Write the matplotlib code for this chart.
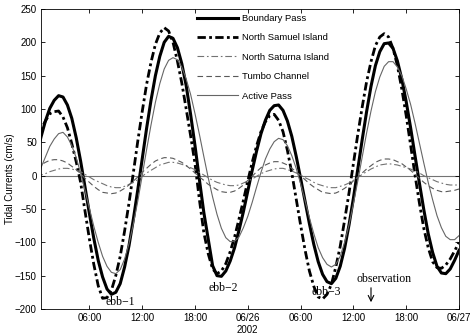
import numpy as np
import matplotlib
matplotlib.use('Agg')
import matplotlib.pyplot as plt

plt.rcParams['font.family'] = 'Liberation Sans'

# half-hourly, hours since 06/25 00:00 (2002)
hours = np.arange(0, 48.5, 0.5)

boundary_pass = [30, 58, 82, 101, 113, 120, 118, 106, 86, 57, 22, -17, -57, -94, -127, -152,
                 -170, -178, -175, -162, -137, -105, -65, -21, 25, 71, 113, 150, 179, 200, 209, 206,
                 192, 168, 135, 92, 45, -6, -55, -95, -135, -150, -151, -143, -128, -108, -82, -54,
                 -23, 8, 37, 63, 83, 98, 105, 106, 98, 82, 59, 29, -4, -38, -72, -103,
                 -129, -148, -159, -162, -154, -136, -109, -74, -34, 10, 54, 96, 134, 165, 186, 198,
                 199, 191, 172, 145, 111, 72, 30, -11, -51, -87, -115, -136, -146, -147, -140, -127, -112]
north_samuel = [52, 69, 82, 93, 96, 97, 88, 72, 48, 21, -10, -53, -95, -133, -165, -184,
                -183, -172, -150, -121, -83, -41, 5, 52, 96, 137, 170, 197, 214, 222, 217, 200,
                172, 139, 100, 60, 18, -36, -85, -117, -140, -147, -143, -132, -114, -92, -65, -37,
                -8, 20, 45, 66, 81, 90, 92, 83, 66, 38, 4, -35, -74, -111, -143, -166,
                -182, -185, -178, -163, -137, -106, -67, -26, 18, 62, 103, 141, 171, 195, 208, 213,
                208, 191, 165, 130, 90, 46, 1, -41, -79, -108, -129, -138, -139, -134, -125, -113, -100]
north_saturna = [-2, 1, 3, 6, 8, 10, 11, 11, 10, 8, 6, 2, -2, -6, -9, -12,
                 -15, -17, -18, -18, -16, -13, -10, -6, -1, 4, 8, 12, 16, 18, 20, 20,
                 19, 17, 15, 12, 9, 5, 1, -3, -7, -10, -12, -14, -15, -15, -14, -11,
                 -8, -5, -1, 3, 6, 8, 10, 11, 11, 9, 7, 4, 1, -3, -6, -10,
                 -13, -15, -17, -18, -18, -16, -14, -11, -7, -3, 2, 6, 10, 13, 16, 17,
                 18, 17, 16, 14, 12, 10, 7, 4, 0, -3, -6, -9, -11, -13, -14, -14, -14]
tumbo_channel = [10, 16, 20, 23, 24, 24, 22, 19, 14, 9, 3, -4, -10, -16, -21, -25,
                 -26, -27, -26, -23, -19, -14, -8, -2, 5, 11, 17, 22, 25, 27, 27, 26,
                 23, 20, 15, 10, 4, -2, -7, -13, -17, -21, -24, -25, -25, -23, -19, -14,
                 -7, -1, 6, 12, 16, 19, 21, 21, 19, 16, 11, 6, 0, -6, -12, -17,
                 -21, -25, -26, -27, -26, -23, -19, -14, -8, -2, 4, 10, 15, 20, 23, 25,
                 25, 24, 21, 18, 13, 8, 2, -4, -10, -15, -19, -22, -24, -24, -23, -22, -20]
active_pass = [-8, 12, 28, 44, 55, 63, 65, 58, 45, 27, 4, -22, -49, -76, -100, -121,
               -136, -145, -147, -141, -125, -102, -72, -38, 0, 39, 76, 110, 138, 160, 173, 177,
               174, 163, 145, 122, 93, 62, 29, -3, -32, -58, -79, -93, -99, -98, -92, -78,
               -61, -40, -17, 5, 25, 40, 51, 56, 54, 45, 30, 11, -12, -37, -63, -87,
               -108, -123, -133, -137, -133, -121, -100, -74, -42, -8, 28, 64, 97, 126, 148, 164,
               171, 171, 163, 150, 130, 107, 79, 49, 19, -10, -36, -60, -78, -91, -96, -96, -90]

tick_hours = [6, 12, 18, 24, 30, 36, 42, 48]
tick_labels = ['06:00', '12:00', '18:00', '06/26\n2002', '06:00', '12:00', '18:00', '06/27']

ebb_labels = ['ebb\u22121', 'ebb\u22122', 'ebb\u22123']
ebb_x = [9.5, 21.2, 32.9]
ebb_y = [-190, -168, -175]

fig = plt.figure(figsize=(4.74, 3.36), dpi=100)
ax = fig.add_axes([41/474, 1 - 309/336, 418/474, 300/336])

ax.axhline(0, color='0.45', lw=0.8, zorder=1)

ax.plot(hours, boundary_pass, color='k', lw=2.2, label='Boundary Pass')
ax.plot(hours, north_samuel, color='k', lw=2.0, ls=(0, (3, 1.2, 1, 1.2)), label='North Samuel Island')
ax.plot(hours, north_saturna, color='0.45', lw=0.8, ls=(0, (6, 2.5, 1.5, 2.5)), label='North Saturna Island')
ax.plot(hours, tumbo_channel, color='0.35', lw=0.8, ls=(0, (5, 3)), label='Tumbo Channel')
ax.plot(hours, active_pass, color='0.4', lw=0.8, label='Active Pass')

for lab, x, y in zip(ebb_labels, ebb_x, ebb_y):
    ax.text(x, y, lab, family='Liberation Serif', fontsize=8.5, ha='center', va='center')

ax.text(39.5, -155, 'observation', family='Liberation Serif', fontsize=8.5, ha='center', va='center')
ax.annotate('', xy=(38, -194), xytext=(38, -164),
            arrowprops=dict(arrowstyle='->', lw=0.8, color='k'))

ax.set_xlim(0.5, 48)
ax.set_ylim(-200, 250)
ax.set_xticks(tick_hours)
ax.set_xticklabels(tick_labels)
ax.set_yticks(np.arange(-200, 251, 50))
ax.tick_params(direction='in', top=True, right=True, length=3, width=0.6, labelsize=7, pad=3)
for s in ax.spines.values():
    s.set_linewidth(0.6)
ax.set_ylabel('Tidal Currents (cm/s)', fontsize=7)
ax.yaxis.set_label_coords(-0.063, 0.433)

ax.legend(loc='upper left', bbox_to_anchor=(197/474, 1 - 14/336), bbox_transform=fig.transFigure,
          frameon=False, fontsize=6.8, handlelength=4.3, handletextpad=0.45, labelspacing=1.1,
          borderpad=0, borderaxespad=0)

fig.savefig('out.png', dpi=100)
